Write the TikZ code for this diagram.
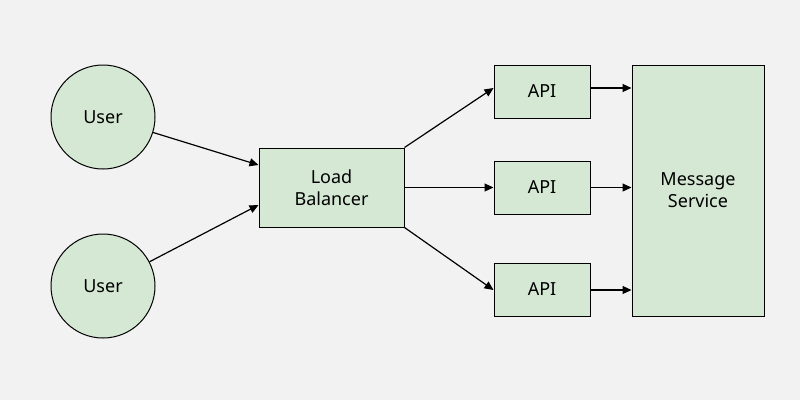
\documentclass[tikz,border=0pt]{standalone}
\usepackage{fontspec}
\setmainfont{Noto Sans}
\usetikzlibrary{arrows.meta}
\definecolor{bg}{HTML}{F2F2F2}
\definecolor{gfill}{HTML}{D5E8D4}
\begin{document}
\begin{tikzpicture}[x=1pt,y=-1pt,
  box/.style={draw=black,fill=gfill,line width=1pt,inner sep=0pt,font=\fontsize{18}{22}\selectfont,align=center},
  arr/.style={-{Triangle[length=9pt,width=8pt]},line width=1.2pt}]
\fill[bg] (0,0) rectangle (800,400);
\node[box,circle,minimum size=104pt] (u1) at (103,117) {User};
\node[box,circle,minimum size=104pt] (u2) at (103,286) {User};
\node[box,minimum width=145pt,minimum height=79pt] (lb) at (331.5,187.5) {Load\\Balancer};
\node[box,minimum width=96pt,minimum height=53pt] (a1) at (542,91.5) {API};
\node[box,minimum width=96pt,minimum height=53pt] (a2) at (542,187.5) {API};
\node[box,minimum width=96pt,minimum height=53pt] (a3) at (542,289.5) {API};
\node[box,minimum width=132pt,minimum height=251pt] (ms) at (698,190.5) {Message\\Service};
\draw[arr] (u1) -- (lb.west |- 0,165);
\draw[arr] (u2) -- (lb.west |- 0,205);
\draw[arr] (lb.north east) -- (a1.west |- 0,88);
\draw[arr] (lb.east) -- (a2.west);
\draw[arr] (lb.south east) -- (a3.west |- 0,290);
\draw[arr] (a1.east |- 0,88) -- (ms.west |- 0,88);
\draw[arr] (a2.east) -- (ms.west |- a2.east);
\draw[arr] (a3.east |- 0,290) -- (ms.west |- 0,290);
\end{tikzpicture}
\end{document}
